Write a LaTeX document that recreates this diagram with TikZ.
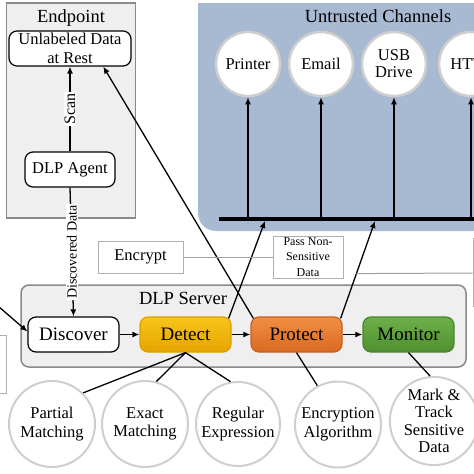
\documentclass[tikz,border=0pt]{standalone}
\usepackage{fontspec}
\setmainfont{Liberation Serif}
\usetikzlibrary{arrows.meta,calc}
\definecolor{epfill}{HTML}{EFEFEF}
\definecolor{epdraw}{HTML}{8A8A8A}
\definecolor{untr}{HTML}{A8B9D2}
\definecolor{cdraw}{HTML}{CFCFCF}
\definecolor{calldraw}{HTML}{B0B0B0}
\definecolor{callline}{HTML}{A0A0A0}
\definecolor{detT}{HTML}{F8C51C}
\definecolor{detB}{HTML}{E5A300}
\definecolor{detD}{HTML}{D9A000}
\definecolor{proT}{HTML}{F08E42}
\definecolor{proB}{HTML}{DA6A22}
\definecolor{proD}{HTML}{C65E22}
\definecolor{monT}{HTML}{6DB04A}
\definecolor{monB}{HTML}{4F8F30}
\definecolor{monD}{HTML}{4A8432}
\begin{document}
\begin{tikzpicture}[x=1pt,y=-1pt,
  lbl/.style={font=\fontsize{16.5}{18.5}\selectfont},
  ttl/.style={font=\fontsize{18.5}{20}\selectfont},
  proc/.style={font=\fontsize{19}{21}\selectfont, rounded corners=8pt, minimum width=91pt, minimum height=35pt, inner sep=0pt, line width=1.2pt},
  wbox/.style={lbl, draw=black, fill=white, rounded corners=8pt, line width=1.2pt, inner sep=0pt, align=center},
  chan/.style={lbl, circle, draw=cdraw, fill=white, line width=2.5pt, minimum size=64pt, inner sep=0pt, align=center},
  bcirc/.style={lbl, circle, draw=cdraw, fill=white, line width=2pt, inner sep=0pt, align=center},
  call/.style={draw=calldraw, fill=white, line width=1pt, inner sep=0pt, align=center},
  arr/.style={line width=1.3pt, -{Latex[length=7pt,width=6pt]}},
  ln/.style={line width=1.3pt},
  cl/.style={draw=callline, line width=1pt}]
\useasboundingbox (0,0) rectangle (474,474);
\clip (0,0) rectangle (474,474);

% Endpoint
\node[draw=epdraw, fill=epfill, line width=1.5pt, minimum width=129pt, minimum height=215pt, inner sep=0pt] (endpoint) at (71,110.5) {};
\node[ttl] (eptitle) at (71,18) {Endpoint};
\node[wbox, minimum width=122pt, minimum height=35pt] (unl) at (70,48.5) {Unlabeled Data\\at Rest};
\node[wbox, minimum width=90pt, minimum height=35pt] (agent) at (70,169.5) {DLP Agent};

% Untrusted channels
\fill[untr] (198,3) -- (520,3) -- (520,231) -- (216,231) .. controls (206,231) and (198,223) .. (198,213) -- cycle;
\node[ttl] (uttitle) at (378,16) {Untrusted Channels};
\node[chan] (printer) at (248,64) {Printer};
\node[chan] (email) at (321,64) {Email};
\node[chan, font=\fontsize{16.5}{17}\selectfont] (usb) at (394,64) {USB\\Drive};
\node[chan] (http) at (471,64) {HTTP};
\coordinate (busl) at (219,219);
\coordinate (busr) at (480,219);
\draw[line width=4pt] (busl) -- (busr);
\foreach \c in {printer,email,usb,http}
  \draw[arr] (\c.south |- busl) -- (\c.south);

% DLP Server
\node[draw=epdraw, fill=epfill, line width=1.5pt, rounded corners=8pt, minimum width=445pt, minimum height=82pt, inner sep=0pt] (server) at (243.5,326) {};
\node[ttl] (svtitle) at (183,298) {DLP Server};
\node[proc, draw=black, fill=white] (discover) at (73.5,334.5) {Discover};
\node[proc, draw=detD, top color=detT, bottom color=detB] (detect) at (185.5,334.5) {Detect};
\node[proc, draw=proD, top color=proT, bottom color=proB] (protect) at (296.5,334.5) {Protect};
\node[proc, draw=monD, top color=monT, bottom color=monB] (monitor) at (408.5,334.5) {Monitor};

\draw[arr] (discover) -- (detect);
\draw[arr] (detect) -- (protect);
\draw[arr] (protect) -- (monitor);

% Endpoint connectors
\draw[arr] (agent.north) -- node[rotate=90, fill=white, inner sep=1pt, font=\fontsize{16}{18}\selectfont] {Scan} (unl.south);
\draw[arr] (agent.south) -- node[rotate=90, fill=white, inner sep=1pt, font=\fontsize{14}{16}\selectfont] {Discovered Data} (discover.north);

% connectors to channels
\coordinate (b1) at (265,221);
\coordinate (b2) at (375,221);
\draw[arr] ([xshift=-3pt,yshift=-2pt]detect.north east) -- (b1);
\draw[arr] ([xshift=-2pt,yshift=-2pt]protect.north east) -- (b2);
\draw[arr] ([xshift=3pt,yshift=-2pt]protect.north west) -- ($(unl.south)!0.54!(unl.south east)$);

% callouts
\node[call, lbl, minimum width=85pt, minimum height=32pt] (encrypt) at (140.5,257) {Encrypt};
\node[call, font=\fontsize{12}{15.5}\selectfont, minimum width=70pt, minimum height=42pt] (pass) at (308,257) {Pass Non-\\Sensitive\\Data};
\draw[cl] (encrypt.east) -- (pass.west);
\node[call, minimum width=40pt, minimum height=68pt] (rbox) at (493,272) {};
\draw[cl] ($([xshift=-2pt,yshift=-2pt]protect.north east)!0.46!(b2)$) -- (rbox.west |- 0,273);

% left items
\coordinate (lin) at (-2,306);
\draw[arr] (lin) -- ([yshift=3pt]discover.west);
\node[call, minimum width=30pt, minimum height=58pt] (lbox) at (-9,364) {};

% bottom circles
\node[bcirc, minimum size=86pt] (partial) at (52,424) {Partial\\Matching};
\node[bcirc, minimum size=86pt] (exact) at (145,424) {Exact\\Matching};
\node[bcirc, minimum size=84pt] (regular) at (238,424) {Regular\\Expression};
\node[bcirc, minimum size=86pt] (encalg) at (338,424.5) {Encryption\\Algorithm};
\node[bcirc, minimum size=78pt, font=\fontsize{16.5}{17.5}\selectfont] (mark) at (434,421) {Mark \&\\Track\\Sensitive\\Data};

\draw[ln] (detect.south) -- (partial.45);
\draw[ln] (detect.south) -- (exact.75);
\draw[ln] (detect.south) -- (regular.100);
\draw[ln] (protect.south) -- (encalg.118);
\draw[ln] (monitor.south) -- (mark.95);
\end{tikzpicture}
\end{document}
